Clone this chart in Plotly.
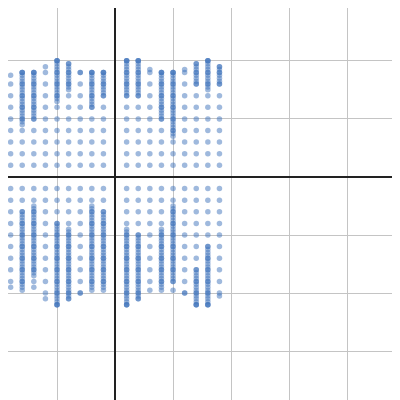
import numpy as np
import plotly.graph_objects as go

# column x positions
col_x = [-2.0, -1.8, -1.6, -1.4, -1.2, -1.0, -0.8, -0.6, -0.4, -0.2,
         0.2, 0.4, 0.6, 0.8, 1.0, 1.2, 1.4, 1.6, 1.8]
# highest value of each column above zero, lowest below zero
top_y = [1.75, 1.75, 1.8, 1.8, 1.9, 2.0, 1.95, 1.8, 1.8, 1.8,
         2.0, 2.0, 1.85, 1.8, 1.8, 1.85, 1.95, 2.0, 1.9]
bot_y = [-1.9, -1.9, -1.95, -1.9, -2.1, -2.2, -2.1, -2.0, -1.95, -1.95,
         -2.2, -2.1, -1.95, -1.95, -1.95, -2.0, -2.2, -2.2, -2.05]
# dense (overlapping) stretches: (lo, hi) above, (lo, hi) below, None = none
dense_up = [None, None, (0.9, 1.8), (1.0, 1.8), None, (1.3, 2.0), (1.5, 1.95), None, (1.2, 1.8), (1.4, 1.8),
            (1.4, 2.0), (1.4, 2.0), None, (1.0, 1.8), (0.7, 1.8), None, (1.6, 1.95), (1.5, 2.0), (1.6, 1.9)]
dense_dn = [None, None, (-1.9, -0.6), (-1.7, -0.5), None, (-2.2, -0.8), (-2.1, -0.9), None, (-1.9, -0.5), (-1.9, -0.6),
            (-2.2, -0.9), (-2.1, -1.0), None, (-1.9, -0.9), (-1.8, -0.5), None, (-2.2, -1.6), (-2.2, -1.2), None]

xs, ys = [], []
for i, x in enumerate(col_x):
    pts = list(np.arange(0.2, top_y[i] + 0.01, 0.2)) + [top_y[i]]
    pts += list(-np.arange(0.2, -bot_y[i] + 0.01, 0.2)) + [bot_y[i]]
    for rng in (dense_up[i], dense_dn[i]):
        if rng:
            pts += list(np.arange(rng[0], rng[1] + 0.001, 0.05))
    xs += [x] * len(pts)
    ys += pts

fig = go.Figure(go.Scatter(
    x=xs, y=ys, mode="markers",
    marker=dict(size=5.5, color="#3f74bb", opacity=0.5, line=dict(width=0)),
))
axis = dict(showticklabels=False, showgrid=True, gridcolor="#c4c4c4", gridwidth=1,
            zeroline=True, zerolinecolor="#222", zerolinewidth=2, dtick=1, ticks="")
fig.update_layout(
    width=400, height=400, margin=dict(l=0, r=0, t=0, b=0),
    plot_bgcolor="white", paper_bgcolor="white", showlegend=False,
    xaxis=dict(range=[-1.845, 5.05], **axis),
    yaxis=dict(range=[-3.98, 2.91], **axis),
)
fig.write_html("out.html")
